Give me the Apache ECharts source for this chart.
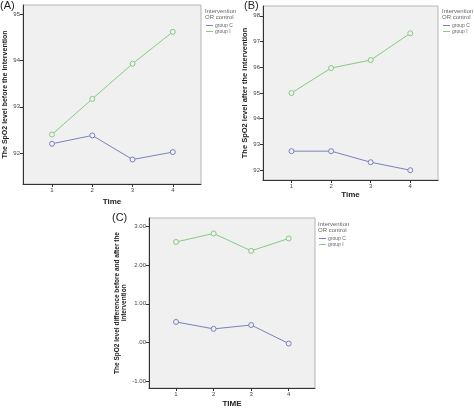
<!DOCTYPE html>
<html>
<head>
<meta charset="utf-8">
<script src="https://cdn.jsdelivr.net/npm/echarts@6/dist/echarts.min.js"></script>
<style>
  html, body { margin: 0; padding: 0; background: #fff; }
  #chart { width: 474px; height: 409px; }
</style>
</head>
<body>
<div id="chart"></div>
<script>
// values
const timePoints = [1, 2, 3, 4]
const beforeC = [92.2, 92.38, 91.86, 92.02]
const beforeI = [92.4, 93.17, 93.93, 94.62]
const afterC = [92.74, 92.74, 92.31, 92.0]
const afterI = [95.0, 95.97, 96.28, 97.32]
const diffC = [0.53, 0.35, 0.45, -0.03]
const diffI = [2.6, 2.82, 2.37, 2.69]
const ticksA = [92, 93, 94, 95]
const ticksB = [92, 93, 94, 95, 96, 97, 98]
const ticksC = [-1, 0, 1, 2, 3]

const FONT = 'Liberation Sans'
const BLUE = '#7b80bd'
const GREEN = '#84cc84'

const pairs = vals => timePoints.map((t, i) => [t, vals[i]])

const panels = [
  { grid: { left: 23, top: 5, width: 178, height: 179 }, yMin: 91.33, yMax: 95.2, ticks: ticksA,
    yName: 'The SpO2 level before the intervention', yGap: 12, yFont: 7, xName: 'Time', xGap: 14,
    c: beforeC, i: beforeI, fmt: v => String(v), legendX: 205, legendY: 8 },
  { grid: { left: 263, top: 6, width: 175, height: 174 }, yMin: 91.62, yMax: 98.38, ticks: ticksB,
    yName: 'The SpO2 level after the intervention', yGap: 12, yFont: 7.5, xName: 'Time', xGap: 11,
    c: afterC, i: afterI, fmt: v => String(v), legendX: 442, legendY: 8 },
  { grid: { left: 149, top: 218, width: 166, height: 171 }, yMin: -1.18, yMax: 3.22, ticks: ticksC,
    yName: 'The SpO2 level difference before and after the\nintervention', yGap: 17, yFont: 6.5, xName: 'TIME', xGap: 12,
    c: diffC, i: diffI, fmt: v => (v === 0 ? '.00' : v.toFixed(2)), legendX: 318, legendY: 221 },
]

const tickLabel = { fontFamily: FONT, fontSize: 6, color: '#444', margin: 3 }
const nameStyle = { fontFamily: FONT, fontSize: 8, fontWeight: 'bold', color: '#222' }
const letterStyle = { fontFamily: FONT, fontSize: 11, fontWeight: 'normal', color: '#222' }

const option = {
  animation: false,
  title: [
    { text: '(A)', left: 0, top: 0, padding: 0, textStyle: letterStyle },
    { text: '(B)', left: 244, top: 0, padding: 0, textStyle: letterStyle },
    { text: '(C)', left: 112, top: 212, padding: 0, textStyle: letterStyle },
  ].concat(panels.map(p => ({
    text: 'Intervention\nOR control', left: p.legendX, top: p.legendY, padding: 0,
    textStyle: { fontFamily: FONT, fontSize: 6, fontWeight: 'normal', color: '#666', lineHeight: 6 },
  }))),
  legend: panels.map(p => ({
    left: p.legendX + 1, top: p.legendY + 15, orient: 'vertical', padding: 0,
    itemGap: 1, itemWidth: 7, itemHeight: 1, icon: 'rect',
    textStyle: { fontFamily: FONT, fontSize: 5, color: '#666', padding: [0, 0, 0, -3] },
    data: [
      { name: 'group C', itemStyle: { color: BLUE, borderWidth: 0 } },
      { name: 'group I', itemStyle: { color: GREEN, borderWidth: 0 } },
    ],
  })),
  grid: panels.map(p => Object.assign({
    show: true, backgroundColor: '#f0f0f0', borderColor: '#b5b5b5', borderWidth: 1,
  }, p.grid)),
  xAxis: panels.map((p, k) => ({
    type: 'value', gridIndex: k, min: 0.28, max: 4.7,
    name: p.xName, nameLocation: 'middle', nameGap: p.xGap, nameTextStyle: nameStyle,
    splitLine: { show: false },
    axisLine: { show: true, onZero: false, lineStyle: { color: '#333', width: 1 } },
    axisTick: { show: true, length: 3, customValues: timePoints, lineStyle: { color: '#333' } },
    axisLabel: Object.assign({ customValues: timePoints }, tickLabel),
  })),
  yAxis: panels.map((p, k) => ({
    type: 'value', gridIndex: k, min: p.yMin, max: p.yMax,
    name: p.yName, nameLocation: 'middle', nameGap: p.yGap, nameRotate: 90,
    nameTextStyle: Object.assign({}, nameStyle, { fontSize: p.yFont, lineHeight: p.yFont + 1 }),
    splitLine: { show: false },
    axisLine: { show: true, onZero: false, lineStyle: { color: '#333', width: 1 } },
    axisTick: { show: true, length: 3, customValues: p.ticks, lineStyle: { color: '#333' } },
    axisLabel: Object.assign({ customValues: p.ticks, formatter: p.fmt }, tickLabel),
  })),
  series: panels.flatMap((p, k) => [
    { name: 'group C', type: 'line', xAxisIndex: k, yAxisIndex: k, data: pairs(p.c),
      symbol: 'circle', symbolSize: 5,
      lineStyle: { color: BLUE, width: 1 },
      itemStyle: { color: '#f0f0f0', borderColor: BLUE, borderWidth: 1 } },
    { name: 'group I', type: 'line', xAxisIndex: k, yAxisIndex: k, data: pairs(p.i),
      symbol: 'circle', symbolSize: 5,
      lineStyle: { color: GREEN, width: 1 },
      itemStyle: { color: '#f0f0f0', borderColor: GREEN, borderWidth: 1 } },
  ]),
}

const chart = echarts.init(document.getElementById('chart'))
chart.setOption(option)
</script>
</body>
</html>
